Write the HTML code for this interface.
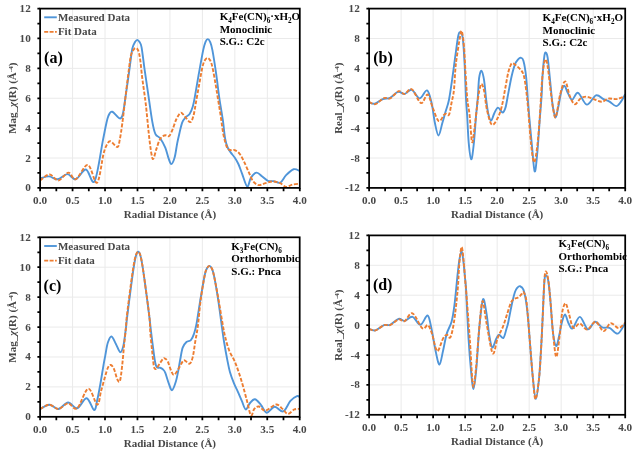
<!DOCTYPE html>
<html><head><meta charset="utf-8"><title>EXAFS fits</title>
<style>
html,body{margin:0;padding:0;background:#fff;}
svg{display:block;}
text{font-family:'Liberation Serif', 'Times New Roman', serif;font-weight:bold;}
.tk{fill:#474747;font-size:11.2px;}
.tt{fill:#474747;font-size:11px;}
.lg{fill:#474747;font-size:11.0px;}
.an{fill:#000;font-size:11.0px;}
.lb{fill:#000;font-size:16px;}
</style></head><body>
<svg width="637" height="455" viewBox="0 0 637 455">
<rect width="637" height="455" fill="#fff"/>
<defs><clipPath id="cpa"><rect x="40.1" y="8.6" width="259.7" height="179.3"/></clipPath></defs>
<path d="M72.56,8.6V187.9M105.03,8.6V187.9M137.49,8.6V187.9M169.95,8.6V187.9M202.41,8.6V187.9M234.87,8.6V187.9M267.34,8.6V187.9M40.1,158.02H299.8M40.1,128.13H299.8M40.1,98.25H299.8M40.1,68.37H299.8M40.1,38.48H299.8" stroke="#EAEAEA" stroke-width="1" fill="none"/>
<g clip-path="url(#cpa)" fill="none" stroke-width="1.9">
<path d="M40.1,178.34C41.58,178.01 46.07,176.25 48.99,176.39C51.92,176.54 54.57,179.61 57.63,179.23C60.69,178.86 64.34,174.15 67.37,174.15C70.4,174.15 72.71,180.01 75.81,179.23C78.9,178.46 82.8,169.2 85.94,169.52C89.08,169.85 91.8,186.08 94.64,181.18C97.47,176.27 101.06,149.4 102.95,140.09C104.83,130.77 105.03,129.33 105.93,125.29C106.84,121.26 107.36,118.15 108.4,115.88C109.44,113.62 110.28,111.27 112.17,111.7C114.05,112.12 117.92,118.05 119.7,118.42C121.47,118.79 121.86,117.4 122.81,113.94C123.77,110.48 124.3,105.17 125.41,97.65C126.53,90.13 128.35,76.96 129.5,68.81C130.65,60.67 131.37,53.25 132.29,48.79C133.21,44.34 134.19,43.56 135.02,42.07C135.85,40.58 136.54,39.83 137.29,39.83C138.05,39.83 138.85,40.82 139.57,42.07C140.28,43.31 140.76,42.84 141.58,47.3C142.4,51.76 143.42,61.19 144.5,68.81C145.58,76.44 146.77,84.23 148.07,93.02C149.37,101.81 151.06,114.71 152.29,121.56C153.52,128.41 154.16,131.32 155.47,134.11C156.78,136.9 158.51,136.03 160.15,138.29C161.78,140.56 163.91,144.49 165.28,147.71C166.64,150.92 167.33,154.85 168.33,157.57C169.32,160.28 170.2,163.99 171.25,163.99C172.3,163.99 173.65,160.93 174.62,157.57C175.6,154.21 176.36,147.58 177.09,143.82C177.83,140.06 178.2,138.54 179.04,135.01C179.88,131.47 181.01,125.59 182.16,122.6C183.3,119.62 184.68,118.52 185.92,117.08C187.17,115.63 188.48,115.71 189.62,113.94C190.77,112.17 191.88,109.61 192.8,106.47C193.72,103.33 194.17,100.39 195.14,95.11C196.11,89.83 197.31,82.29 198.65,74.79C199.99,67.3 202.04,55.64 203.19,50.14C204.34,44.63 204.76,43.61 205.53,41.77C206.3,39.93 207.04,39.08 207.8,39.08C208.56,39.08 209.31,39.93 210.07,41.77C210.84,43.61 211.37,44.63 212.41,50.14C213.45,55.64 215.16,66.85 216.31,74.79C217.45,82.74 218.2,90.23 219.29,97.8C220.39,105.37 221.89,113.42 222.86,120.21C223.84,127.01 224.32,134.01 225.14,138.59C225.95,143.17 226.78,145.37 227.73,147.71C228.69,150.05 229.69,150.99 230.85,152.64C232.01,154.28 233.43,155.68 234.68,157.57C235.94,159.46 237.14,161.28 238.38,163.99C239.63,166.71 240.67,170.09 242.15,173.85C243.62,177.62 245.75,185.91 247.21,186.56C248.67,187.2 249.35,180.06 250.91,177.74C252.47,175.42 254.67,172.86 256.56,172.66C258.45,172.46 260.38,175.17 262.27,176.54C264.17,177.91 266.05,180.11 267.92,180.88C269.79,181.65 271.44,180.88 273.51,181.18C275.57,181.48 278.22,183.67 280.32,182.67C282.42,181.67 283.88,177.44 286.1,175.2C288.32,172.96 291.35,169.92 293.63,169.22C295.92,168.53 298.77,170.72 299.8,171.02" stroke="#4F95D9" stroke-linejoin="round"/>
<path d="M40.1,180.43C41.68,179.43 46.55,174.45 49.58,174.45C52.61,174.45 55.13,180.73 58.28,180.43C61.43,180.13 65.55,172.86 68.47,172.66C71.39,172.46 72.58,180.53 75.81,179.23C79.03,177.94 84.28,164.32 87.82,164.89C91.36,165.46 94.42,184.51 97.04,182.67C99.66,180.83 101.88,160.18 103.53,153.83C105.19,147.48 105.83,146.66 106.97,144.57C108.12,142.48 108.68,140.88 110.41,141.28C112.15,141.68 115.81,147.16 117.36,146.96C118.91,146.76 118.89,143.92 119.7,140.09C120.51,136.25 121.28,131.02 122.23,123.95C123.18,116.88 124.32,106.62 125.41,97.65C126.5,88.69 127.88,77.13 128.79,70.16C129.7,63.19 130.06,59.23 130.87,55.82C131.67,52.4 132.76,50.98 133.59,49.69C134.43,48.39 135.11,47.92 135.86,48.05C136.62,48.17 137.43,48.64 138.14,50.44C138.84,52.23 139.41,54.32 140.08,58.8C140.76,63.29 141.43,71.4 142.16,77.33C142.9,83.26 143.85,89.51 144.5,94.37C145.15,99.22 145.48,101.31 146.06,106.47C146.63,111.62 147.37,119.69 147.94,125.29C148.51,130.9 148.91,135.33 149.5,140.09C150.08,144.84 150.82,150.7 151.45,153.83C152.07,156.97 152.43,159.73 153.26,158.91C154.1,158.09 155.4,152.04 156.45,148.9C157.5,145.76 158.51,142.18 159.56,140.09C160.61,137.99 161.66,137.15 162.74,136.35C163.83,135.55 164.96,135.38 166.05,135.31C167.15,135.23 168.19,136.95 169.3,135.9C170.42,134.86 171.55,131.84 172.74,129.03C173.93,126.22 175.08,121.73 176.44,119.02C177.81,116.3 179.44,113.07 180.92,112.74C182.4,112.42 183.77,115.51 185.34,117.08C186.91,118.65 188.98,122.38 190.34,122.16C191.69,121.93 192.52,118.99 193.45,115.73C194.38,112.47 194.95,107.89 195.92,102.58C196.89,97.28 198.21,89.83 199.3,83.91C200.38,77.98 201.48,70.96 202.41,67.02C203.34,63.09 204.04,61.82 204.88,60.3C205.72,58.78 206.61,57.91 207.48,57.91C208.34,57.91 209.25,58.78 210.07,60.3C210.9,61.82 211.5,63.09 212.41,67.02C213.32,70.96 214.63,78.78 215.53,83.91C216.43,89.04 216.99,92.8 217.8,97.8C218.61,102.81 219.43,107.69 220.4,113.94C221.36,120.19 222.43,129.65 223.58,135.31C224.73,140.96 226.05,145.39 227.28,147.86C228.51,150.32 229.75,149.72 230.98,150.1C232.21,150.47 233.23,149.48 234.68,150.1C236.13,150.72 238.13,151.94 239.68,153.83C241.23,155.73 242.5,158.51 243.96,161.45C245.43,164.39 246.96,168.23 248.44,171.46C249.93,174.7 251.19,178.61 252.86,180.88C254.53,183.14 256.46,184.64 258.44,185.06C260.42,185.48 262.42,184.02 264.74,183.42C267.06,182.82 269.83,181.55 272.34,181.48C274.85,181.4 277.51,182.07 279.8,182.97C282.1,183.87 284,186.58 286.1,186.85C288.2,187.13 290.12,185.14 292.4,184.61C294.68,184.09 298.57,183.87 299.8,183.72" stroke="#ED7D31" stroke-dasharray="3.8 1.7"/>
</g>
<rect x="40.1" y="8.6" width="259.7" height="179.3" fill="none" stroke="#000" stroke-width="1.75"/>
<path d="M40.1,187.9V191.3M56.33,187.9V191.3M72.56,187.9V191.3M88.79,187.9V191.3M105.03,187.9V191.3M121.26,187.9V191.3M137.49,187.9V191.3M153.72,187.9V191.3M169.95,187.9V191.3M186.18,187.9V191.3M202.41,187.9V191.3M218.64,187.9V191.3M234.87,187.9V191.3M251.11,187.9V191.3M267.34,187.9V191.3M283.57,187.9V191.3M299.8,187.9V191.3M37.4,187.9H40.1M37.4,172.96H40.1M37.4,158.02H40.1M37.4,143.07H40.1M37.4,128.13H40.1M37.4,113.19H40.1M37.4,98.25H40.1M37.4,83.31H40.1M37.4,68.37H40.1M37.4,53.42H40.1M37.4,38.48H40.1M37.4,23.54H40.1M37.4,8.6H40.1" stroke="#000" stroke-width="1.75" fill="none"/>
<text class="tk" x="40.1" y="203.8" text-anchor="middle">0.0</text>
<text class="tk" x="72.56" y="203.8" text-anchor="middle">0.5</text>
<text class="tk" x="105.03" y="203.8" text-anchor="middle">1.0</text>
<text class="tk" x="137.49" y="203.8" text-anchor="middle">1.5</text>
<text class="tk" x="169.95" y="203.8" text-anchor="middle">2.0</text>
<text class="tk" x="202.41" y="203.8" text-anchor="middle">2.5</text>
<text class="tk" x="234.87" y="203.8" text-anchor="middle">3.0</text>
<text class="tk" x="267.34" y="203.8" text-anchor="middle">3.5</text>
<text class="tk" x="299.8" y="203.8" text-anchor="middle">4.0</text>
<text class="tk" x="30.8" y="191.4" text-anchor="end">0</text>
<text class="tk" x="30.8" y="161.52" text-anchor="end">2</text>
<text class="tk" x="30.8" y="131.63" text-anchor="end">4</text>
<text class="tk" x="30.8" y="101.75" text-anchor="end">6</text>
<text class="tk" x="30.8" y="71.87" text-anchor="end">8</text>
<text class="tk" x="30.8" y="41.98" text-anchor="end">10</text>
<text class="tk" x="30.8" y="12.1" text-anchor="end">12</text>
<text class="tt" x="169.95" y="217.7" text-anchor="middle">Radial Distance (Å)</text>
<text class="tt" transform="translate(16.2,98.25) rotate(-90)" text-anchor="middle">Mag_<tspan font-style="italic">χ</tspan>(R) (Å<tspan font-size="7" dy="-3">-4</tspan><tspan dy="3">)</tspan></text>
<path d="M44.2,17.3H56.8" stroke="#4F95D9" stroke-width="1.9"/>
<path d="M44.2,31.9H56.8" stroke="#ED7D31" stroke-width="1.9" stroke-dasharray="4 1.4"/>
<text class="lg" x="57.9" y="20.9">Measured Data</text>
<text class="lg" x="57.9" y="35.2">Fit Data</text>
<text class="an" x="219.7" y="20.3">K<tspan font-size="7.2" dy="2.8">4</tspan><tspan dy="-2.8">Fe(CN)</tspan><tspan font-size="7.2" dy="2.8">6</tspan><tspan dy="-2.8">·xH</tspan><tspan font-size="7.2" dy="2.8">2</tspan><tspan dy="-2.8">O</tspan></text>
<text class="an" x="219.7" y="33.1">Monoclinic</text>
<text class="an" x="219.7" y="45.3">S.G.: C2c</text>
<text class="lb" x="44.1" y="62.7">(a)</text>
<defs><clipPath id="cpb"><rect x="369.1" y="8.6" width="256.1" height="179.3"/></clipPath></defs>
<path d="M401.11,8.6V187.9M433.12,8.6V187.9M465.14,8.6V187.9M497.15,8.6V187.9M529.16,8.6V187.9M561.18,8.6V187.9M593.19,8.6V187.9M369.1,158.02H625.2M369.1,128.13H625.2M369.1,98.25H625.2M369.1,68.37H625.2M369.1,38.48H625.2" stroke="#EAEAEA" stroke-width="1" fill="none"/>
<g clip-path="url(#cpb)" fill="none" stroke-width="1.9">
<path d="M369.1,102.36C370.06,102.58 372.58,104.25 374.86,103.7C377.15,103.16 380.26,100.06 382.8,99.07C385.34,98.09 387.56,99.01 390.1,97.8C392.64,96.59 395.62,92.49 398.04,91.83C400.46,91.17 402.34,94.17 404.63,93.84C406.93,93.52 409.3,89.12 411.8,89.88C414.31,90.64 417.14,98.3 419.68,98.4C422.22,98.5 425.05,89.67 427.04,90.48C429.04,91.29 430.34,97.83 431.65,103.26C432.96,108.68 433.78,117.69 434.92,123.05C436.06,128.42 437.27,135.45 438.5,135.45C439.74,135.45 441.16,127.05 442.34,123.05C443.53,119.06 444.51,115.32 445.61,111.47C446.71,107.63 447.82,105.51 448.94,99.97C450.06,94.43 451.25,85.66 452.33,78.23C453.41,70.79 454.42,62.41 455.41,55.37C456.39,48.32 457.4,39.8 458.22,35.94C459.04,32.08 459.59,31.91 460.34,32.21C461.08,32.51 461.99,32.41 462.7,37.74C463.42,43.07 464.07,53.92 464.63,64.18C465.18,74.44 465.62,90.87 466.03,99.3C466.45,107.73 466.67,107.5 467.12,114.76C467.57,122.02 468.04,135.42 468.72,142.85C469.41,150.28 470.39,159.09 471.22,159.36C472.05,159.64 472.9,151.93 473.72,144.49C474.54,137.06 475.47,122.59 476.15,114.76C476.83,106.93 477.32,103.59 477.81,97.5C478.31,91.41 478.49,82.67 479.09,78.23C479.7,73.78 480.64,70.55 481.46,70.83C482.29,71.12 483.25,75.2 484.02,79.95C484.8,84.69 485.44,93.76 486.14,99.3C486.83,104.84 487.36,109.64 488.19,113.19C489.01,116.74 490.04,120.59 491.07,120.59C492.09,120.59 493.18,115.36 494.33,113.19C495.49,111.03 496.61,107.71 497.98,107.59C499.36,107.46 501.33,112.48 502.59,112.44C503.85,112.41 504.6,110.5 505.54,107.36C506.48,104.23 507.22,98.76 508.23,93.62C509.23,88.48 510.45,81.34 511.56,76.51C512.67,71.68 513.79,67.48 514.88,64.63C515.98,61.78 517.17,60.55 518.15,59.4C519.13,58.26 519.9,57.55 520.78,57.76C521.65,57.97 522.51,57.55 523.4,60.67C524.29,63.8 525.31,69.49 526.09,76.51C526.87,83.53 527.53,95.9 528.07,102.81C528.62,109.72 528.7,110.76 529.35,117.97C530.01,125.18 531.09,137.14 531.98,146.06C532.87,154.99 533.78,170.38 534.67,171.54C535.55,172.7 536.43,161.94 537.29,153.01C538.16,144.08 539.13,127.62 539.85,117.97C540.58,108.32 541.21,102.02 541.65,95.11C542.08,88.2 542.01,83.12 542.48,76.51C542.95,69.9 543.87,59.4 544.46,55.44C545.06,51.48 545.52,52.32 546.07,52.75C546.61,53.19 547.12,54.1 547.73,58.06C548.34,62.02 548.95,69.05 549.71,76.51C550.48,83.97 551.62,96.82 552.34,102.81C553.05,108.8 553.43,110.07 554,112.44C554.58,114.82 555.02,118.32 555.8,117.08C556.58,115.83 557.73,109.36 558.68,104.97C559.63,100.59 560.52,93.97 561.5,90.78C562.47,87.59 563.44,85.46 564.5,85.85C565.57,86.23 566.62,90.78 567.9,93.1C569.18,95.41 570.49,99.79 572.19,99.74C573.88,99.69 575.64,91.99 578.08,92.8C580.51,93.61 583.8,104.18 586.79,104.6C589.77,105.02 593.22,96.26 596,95.34C598.79,94.41 601.24,98.03 603.5,99.07C605.75,100.12 607.4,100.44 609.51,101.61C611.63,102.78 614.26,106.09 616.17,106.09C618.08,106.09 619.47,103.58 620.97,101.61C622.48,99.64 624.5,95.51 625.2,94.29" stroke="#4F95D9" stroke-linejoin="round"/>
<path d="M369.1,101.84C370.17,102.21 373.01,104.71 375.5,104.08C378,103.44 381.65,98.97 384.08,98.03C386.51,97.08 387.68,99.53 390.1,98.4C392.52,97.27 396.19,91.95 398.62,91.23C401.04,90.51 402.44,94.4 404.63,94.07C406.83,93.73 409.07,87.7 411.8,89.21C414.54,90.72 418.39,102.22 421.02,103.11C423.66,103.99 425.63,93.66 427.62,94.51C429.6,95.37 431.07,103.84 432.93,108.26C434.8,112.68 436.84,120.09 438.82,121.04C440.81,121.98 443.16,114.98 444.84,113.94C446.53,112.89 447.84,116.54 448.94,114.76C450.04,112.98 450.6,107.36 451.44,103.26C452.27,99.15 453.2,96.62 453.93,90.11C454.67,83.59 454.86,72.91 455.85,64.18C456.85,55.45 458.9,43.25 459.89,37.74C460.88,32.22 461.13,29.62 461.81,31.09C462.49,32.56 463.37,39.58 463.99,46.55C464.6,53.52 464.97,64.13 465.52,72.92C466.08,81.71 466.64,92.32 467.31,99.3C467.99,106.27 468.77,107.64 469.56,114.76C470.34,121.88 471.22,139.83 472.05,142.03C472.88,144.23 473.59,134.99 474.55,127.98C475.51,120.97 477,106.28 477.81,99.97C478.63,93.66 478.81,92.8 479.42,90.11C480.02,87.42 480.7,83.77 481.46,83.83C482.23,83.89 483.11,86.13 484.02,90.48C484.94,94.83 485.67,104.2 486.97,109.9C488.27,115.61 490.05,123.34 491.84,124.7C493.62,126.05 496.01,121.09 497.66,118.05C499.32,115.01 500.53,111.21 501.76,106.47C502.99,101.72 503.95,95.24 505.03,89.58C506.1,83.93 507.24,76.71 508.23,72.55C509.21,68.39 510.15,66.16 510.92,64.63C511.68,63.1 511.87,63.14 512.84,63.36C513.81,63.59 515.32,64.78 516.74,65.98C518.16,67.17 520.13,68.78 521.35,70.53C522.57,72.29 523.25,73.33 524.04,76.51C524.83,79.68 525.42,84.32 526.09,89.58C526.76,94.85 527.24,99 528.07,108.11C528.91,117.23 530.08,135.24 531.08,144.27C532.09,153.3 533.06,161.98 534.09,162.28C535.13,162.57 536.33,153.75 537.29,146.06C538.25,138.38 539.1,126.66 539.85,116.18C540.61,105.7 541.17,91.75 541.84,83.16C542.51,74.57 543.23,68.59 543.89,64.63C544.55,60.67 545.16,58.97 545.81,59.4C546.46,59.84 547.01,62.22 547.79,67.25C548.57,72.28 549.61,82.77 550.48,89.58C551.36,96.39 552.16,103.53 553.04,108.11C553.93,112.69 554.6,119.38 555.8,117.08C556.99,114.77 558.66,100.23 560.21,94.29C561.77,88.35 563.51,81.04 565.14,81.44C566.78,81.84 568.38,92.88 570.01,96.68C571.64,100.48 573.19,103.93 574.94,104.23C576.69,104.53 578.57,99.73 580.51,98.47C582.45,97.22 584.38,96.58 586.59,96.68C588.8,96.78 591.25,98.23 593.76,99.07C596.28,99.92 599.28,101.84 601.7,101.76C604.13,101.69 605.78,99.07 608.3,98.62C610.82,98.18 614,99.5 616.81,99.07C619.63,98.65 623.8,96.58 625.2,96.08" stroke="#ED7D31" stroke-dasharray="3.8 1.7"/>
</g>
<rect x="369.1" y="8.6" width="256.1" height="179.3" fill="none" stroke="#000" stroke-width="1.75"/>
<path d="M369.1,187.9V191.3M385.11,187.9V191.3M401.11,187.9V191.3M417.12,187.9V191.3M433.12,187.9V191.3M449.13,187.9V191.3M465.14,187.9V191.3M481.14,187.9V191.3M497.15,187.9V191.3M513.16,187.9V191.3M529.16,187.9V191.3M545.17,187.9V191.3M561.18,187.9V191.3M577.18,187.9V191.3M593.19,187.9V191.3M609.19,187.9V191.3M625.2,187.9V191.3M366.4,187.9H369.1M366.4,172.96H369.1M366.4,158.02H369.1M366.4,143.07H369.1M366.4,128.13H369.1M366.4,113.19H369.1M366.4,98.25H369.1M366.4,83.31H369.1M366.4,68.37H369.1M366.4,53.42H369.1M366.4,38.48H369.1M366.4,23.54H369.1M366.4,8.6H369.1" stroke="#000" stroke-width="1.75" fill="none"/>
<text class="tk" x="369.1" y="203.8" text-anchor="middle">0.0</text>
<text class="tk" x="401.11" y="203.8" text-anchor="middle">0.5</text>
<text class="tk" x="433.12" y="203.8" text-anchor="middle">1.0</text>
<text class="tk" x="465.14" y="203.8" text-anchor="middle">1.5</text>
<text class="tk" x="497.15" y="203.8" text-anchor="middle">2.0</text>
<text class="tk" x="529.16" y="203.8" text-anchor="middle">2.5</text>
<text class="tk" x="561.18" y="203.8" text-anchor="middle">3.0</text>
<text class="tk" x="593.19" y="203.8" text-anchor="middle">3.5</text>
<text class="tk" x="625.2" y="203.8" text-anchor="middle">4.0</text>
<text class="tk" x="359.8" y="191.4" text-anchor="end">-12</text>
<text class="tk" x="359.8" y="161.52" text-anchor="end">-8</text>
<text class="tk" x="359.8" y="131.63" text-anchor="end">-4</text>
<text class="tk" x="359.8" y="101.75" text-anchor="end">0</text>
<text class="tk" x="359.8" y="71.87" text-anchor="end">4</text>
<text class="tk" x="359.8" y="41.98" text-anchor="end">8</text>
<text class="tk" x="359.8" y="12.1" text-anchor="end">12</text>
<text class="tt" x="497.15" y="217.7" text-anchor="middle">Radial Distance (Å)</text>
<text class="tt" transform="translate(341.8,98.25) rotate(-90)" text-anchor="middle">Real_<tspan font-style="italic">χ</tspan>(R) (Å<tspan font-size="7" dy="-3">-4</tspan><tspan dy="3">)</tspan></text>
<text class="an" x="542.6" y="20.7">K<tspan font-size="7.2" dy="2.8">4</tspan><tspan dy="-2.8">Fe(CN)</tspan><tspan font-size="7.2" dy="2.8">6</tspan><tspan dy="-2.8">·xH</tspan><tspan font-size="7.2" dy="2.8">2</tspan><tspan dy="-2.8">O</tspan></text>
<text class="an" x="542.6" y="33.8">Monoclinic</text>
<text class="an" x="542.6" y="46.1">S.G.: C2c</text>
<text class="lb" x="373.2" y="62.8">(b)</text>
<defs><clipPath id="cpc"><rect x="40.1" y="237.3" width="259.6" height="179.5"/></clipPath></defs>
<path d="M72.55,237.3V416.8M105,237.3V416.8M137.45,237.3V416.8M169.9,237.3V416.8M202.35,237.3V416.8M234.8,237.3V416.8M267.25,237.3V416.8M40.1,386.88H299.7M40.1,356.97H299.7M40.1,327.05H299.7M40.1,297.13H299.7M40.1,267.22H299.7" stroke="#EAEAEA" stroke-width="1" fill="none"/>
<g clip-path="url(#cpc)" fill="none" stroke-width="1.9">
<path d="M40.1,409.02C41.65,408.3 46.33,404.68 49.38,404.68C52.43,404.68 55.29,409.4 58.4,409.02C61.52,408.65 64.95,402.56 68.07,402.44C71.2,402.32 74.06,408.97 77.16,408.27C80.25,407.58 83.81,397.95 86.63,398.25C89.46,398.55 92.33,409.74 94.1,410.07C95.86,410.39 96.16,404.56 97.21,400.2C98.26,395.83 99.34,389.75 100.39,383.89C101.44,378.03 102.69,369.81 103.51,365.04C104.33,360.28 104.61,359.04 105.32,355.32C106.04,351.61 106.76,345.9 107.79,342.76C108.82,339.62 110.14,336.27 111.49,336.47C112.84,336.67 114.44,341.34 115.9,343.95C117.36,346.57 118.99,351.96 120.25,352.18C121.52,352.4 122.54,349.39 123.5,345.3C124.45,341.21 125.37,332.26 125.96,327.65C126.56,323.04 126.25,324.23 127.07,317.63C127.88,311.02 129.65,296.78 130.83,288.01C132.01,279.23 133.23,270.51 134.14,264.97C135.05,259.44 135.6,257 136.28,254.8C136.96,252.61 137.58,251.81 138.23,251.81C138.88,251.81 139.49,252.61 140.18,254.8C140.86,257 141.41,259.44 142.32,264.97C143.23,270.51 144.44,279.23 145.63,288.01C146.82,296.78 148.56,310.4 149.46,317.63C150.35,324.86 150.33,325.75 151.01,331.39C151.7,337.02 152.83,346.17 153.55,351.43C154.26,356.69 154.74,360.28 155.3,362.95C155.86,365.62 156.12,366.64 156.92,367.44C157.72,368.24 159.13,367.44 160.1,367.74C161.07,368.04 161.91,368.41 162.76,369.23C163.62,370.06 164.2,370.23 165.23,372.67C166.25,375.12 167.78,380.97 168.93,383.89C170.07,386.81 170.95,390.57 172.11,390.17C173.26,389.78 174.82,384.86 175.87,381.5C176.92,378.13 177.67,373.7 178.4,369.98C179.14,366.27 179.57,362.93 180.28,359.21C181,355.5 181.66,350.56 182.69,347.69C183.71,344.83 185.09,343.25 186.45,342.01C187.81,340.76 189.61,341.56 190.86,340.21C192.12,338.87 193.04,336.65 193.98,333.93C194.92,331.21 195.39,329.89 196.51,323.91C197.62,317.93 199.29,306.18 200.66,298.03C202.04,289.88 203.68,279.98 204.75,275C205.82,270.01 206.32,269.63 207.09,268.11C207.86,266.59 208.6,265.87 209.36,265.87C210.12,265.87 210.88,266.59 211.63,268.11C212.38,269.63 212.79,270.01 213.84,275C214.89,279.98 216.56,289.26 217.93,298.03C219.29,306.81 220.99,320.32 222.01,327.65C223.04,334.98 223.2,336.6 224.09,342.01C224.98,347.42 226.36,355.12 227.34,360.11C228.31,365.09 228.84,368.09 229.93,371.93C231.02,375.76 232.58,379.85 233.89,383.14C235.2,386.43 236.47,388.7 237.79,391.67C239.11,394.64 240.49,397.98 241.81,400.94C243.13,403.91 244.39,409.05 245.7,409.47C247.01,409.89 248.14,405.18 249.66,403.49C251.19,401.79 252.98,399.07 254.85,399.3C256.73,399.52 258.91,402.59 260.89,404.83C262.87,407.08 264.44,412.44 266.73,412.76C269.02,413.09 271.9,407 274.65,406.78C277.4,406.55 280.59,412.39 283.22,411.42C285.84,410.44 288.13,403.49 290.42,400.94C292.71,398.4 295.43,396.78 296.97,396.16C298.52,395.53 299.25,397.03 299.7,397.2" stroke="#4F95D9" stroke-linejoin="round"/>
<path d="M40.1,409.02C41.65,408.3 46.33,404.68 49.38,404.68C52.43,404.68 55.29,409.25 58.4,409.02C61.52,408.8 64.95,403.46 68.07,403.34C71.2,403.21 73.79,410.72 77.16,408.27C80.52,405.83 84.91,389.28 88.26,388.68C91.6,388.08 95.09,404.24 97.21,404.68C99.33,405.13 99.71,395.88 100.98,391.37C102.24,386.86 103.65,381.57 104.81,377.61C105.96,373.65 106.9,369.68 107.92,367.59C108.94,365.49 109.89,364.79 110.91,365.04C111.92,365.29 112.95,366.69 114.02,369.08C115.09,371.48 116.35,377.43 117.33,379.4C118.32,381.37 119.12,383.24 119.93,380.9C120.74,378.56 121.51,371.28 122.2,365.34C122.89,359.41 123.45,351.58 124.08,345.3C124.71,339.02 125.53,332.26 125.96,327.65C126.4,323.04 125.94,324.23 126.68,317.63C127.41,311.02 129.21,296.78 130.38,288.01C131.54,279.23 132.76,270.51 133.69,264.97C134.62,259.44 135.23,257 135.96,254.8C136.68,252.61 137.33,251.81 138.03,251.81C138.74,251.81 139.46,252.61 140.18,254.8C140.89,257 141.41,259.44 142.32,264.97C143.23,270.51 144.44,279.23 145.63,288.01C146.82,296.78 148.66,309.97 149.46,317.63C150.26,325.28 149.95,328.07 150.43,333.93C150.91,339.79 151.73,347.37 152.31,352.78C152.9,358.19 153.33,363.7 153.93,366.39C154.54,369.08 155.02,369.36 155.95,368.93C156.88,368.51 158.38,365.47 159.52,363.85C160.65,362.23 161.93,360.13 162.76,359.21C163.59,358.29 163.69,357.96 164.51,358.31C165.34,358.66 166.64,359.36 167.69,361.3C168.74,363.25 169.77,367.71 170.81,369.98C171.85,372.25 172.66,375.09 173.92,374.92C175.19,374.74 176.93,371.2 178.4,368.93C179.87,366.66 181.66,362.7 182.75,361.3C183.84,359.91 183.82,360.16 184.96,360.56C186.09,360.96 188.27,364.27 189.56,363.7C190.86,363.12 191.79,360.83 192.74,357.12C193.7,353.4 194.43,346.52 195.28,341.41C196.12,336.3 196.91,333.33 197.81,326.45C198.7,319.57 199.51,308.7 200.66,300.12C201.82,291.55 203.68,280.33 204.75,275C205.82,269.66 206.32,269.63 207.09,268.11C207.86,266.59 208.6,265.87 209.36,265.87C210.12,265.87 210.88,266.59 211.63,268.11C212.38,269.63 212.73,270.01 213.84,275C214.94,279.98 216.68,289.26 218.25,298.03C219.82,306.81 222.06,321.04 223.25,327.65C224.44,334.25 224.42,333.91 225.39,337.67C226.36,341.43 227.52,346.25 229.09,350.24C230.66,354.22 233.13,357.76 234.8,361.6C236.47,365.44 237.7,369.13 239.08,373.27C240.47,377.41 241.79,381.82 243.11,386.43C244.43,391.05 245.69,396.11 247,400.94C248.31,405.78 249.75,414.13 250.96,415.45C252.17,416.78 252.95,410.37 254.27,408.87C255.59,407.38 257.02,406.18 258.88,406.48C260.74,406.78 262.59,410.99 265.43,410.67C268.28,410.34 273.1,404.83 275.95,404.53C278.79,404.24 280.52,407.3 282.5,408.87C284.48,410.44 285.84,413.86 287.82,413.96C289.8,414.06 292.4,410.32 294.38,409.47C296.36,408.62 298.81,408.97 299.7,408.87" stroke="#ED7D31" stroke-dasharray="3.8 1.7"/>
</g>
<rect x="40.1" y="237.3" width="259.6" height="179.5" fill="none" stroke="#000" stroke-width="1.75"/>
<path d="M40.1,416.8V420.2M56.33,416.8V420.2M72.55,416.8V420.2M88.78,416.8V420.2M105,416.8V420.2M121.22,416.8V420.2M137.45,416.8V420.2M153.67,416.8V420.2M169.9,416.8V420.2M186.12,416.8V420.2M202.35,416.8V420.2M218.57,416.8V420.2M234.8,416.8V420.2M251.02,416.8V420.2M267.25,416.8V420.2M283.47,416.8V420.2M299.7,416.8V420.2M37.4,416.8H40.1M37.4,401.84H40.1M37.4,386.88H40.1M37.4,371.93H40.1M37.4,356.97H40.1M37.4,342.01H40.1M37.4,327.05H40.1M37.4,312.09H40.1M37.4,297.13H40.1M37.4,282.18H40.1M37.4,267.22H40.1M37.4,252.26H40.1M37.4,237.3H40.1" stroke="#000" stroke-width="1.75" fill="none"/>
<text class="tk" x="40.1" y="432.7" text-anchor="middle">0.0</text>
<text class="tk" x="72.55" y="432.7" text-anchor="middle">0.5</text>
<text class="tk" x="105" y="432.7" text-anchor="middle">1.0</text>
<text class="tk" x="137.45" y="432.7" text-anchor="middle">1.5</text>
<text class="tk" x="169.9" y="432.7" text-anchor="middle">2.0</text>
<text class="tk" x="202.35" y="432.7" text-anchor="middle">2.5</text>
<text class="tk" x="234.8" y="432.7" text-anchor="middle">3.0</text>
<text class="tk" x="267.25" y="432.7" text-anchor="middle">3.5</text>
<text class="tk" x="299.7" y="432.7" text-anchor="middle">4.0</text>
<text class="tk" x="30.8" y="420.3" text-anchor="end">0</text>
<text class="tk" x="30.8" y="390.38" text-anchor="end">2</text>
<text class="tk" x="30.8" y="360.47" text-anchor="end">4</text>
<text class="tk" x="30.8" y="330.55" text-anchor="end">6</text>
<text class="tk" x="30.8" y="300.63" text-anchor="end">8</text>
<text class="tk" x="30.8" y="270.72" text-anchor="end">10</text>
<text class="tk" x="30.8" y="240.8" text-anchor="end">12</text>
<text class="tt" x="169.9" y="446.6" text-anchor="middle">Radial Distance (Å)</text>
<text class="tt" transform="translate(16.2,327.05) rotate(-90)" text-anchor="middle">Mag_<tspan font-style="italic">χ</tspan>(R) (Å<tspan font-size="7" dy="-3">-4</tspan><tspan dy="3">)</tspan></text>
<path d="M44.2,246H56.8" stroke="#4F95D9" stroke-width="1.9"/>
<path d="M44.2,260.6H56.8" stroke="#ED7D31" stroke-width="1.9" stroke-dasharray="4 1.4"/>
<text class="lg" x="57.9" y="249.6">Measured Data</text>
<text class="lg" x="57.9" y="263.9">Fit data</text>
<text class="an" x="231.3" y="250">K<tspan font-size="7.2" dy="2.8">3</tspan><tspan dy="-2.8">Fe(CN)</tspan><tspan font-size="7.2" dy="2.8">6</tspan></text>
<text class="an" x="231.3" y="262">Orthorhombic</text>
<text class="an" x="231.3" y="274.5">S.G.: Pnca</text>
<text class="lb" x="43.6" y="291.2">(c)</text>
<defs><clipPath id="cpd"><rect x="369.1" y="235.4" width="256.1" height="179.4"/></clipPath></defs>
<path d="M401.11,235.4V414.8M433.12,235.4V414.8M465.14,235.4V414.8M497.15,235.4V414.8M529.16,235.4V414.8M561.18,235.4V414.8M593.19,235.4V414.8M369.1,384.9H625.2M369.1,355H625.2M369.1,325.1H625.2M369.1,295.2H625.2M369.1,265.3H625.2" stroke="#EAEAEA" stroke-width="1" fill="none"/>
<g clip-path="url(#cpd)" fill="none" stroke-width="1.9">
<path d="M369.1,329.06C370.17,329.29 373.01,331.07 375.5,330.41C378,329.75 381.65,326.03 384.08,325.1C386.51,324.17 387.68,325.85 390.1,324.8C392.52,323.75 396.19,319.48 398.62,318.82C401.04,318.16 402.32,321.18 404.63,320.84C406.95,320.5 409.87,316.14 412.51,316.8C415.14,317.46 417.96,325.01 420.45,324.8C422.93,324.59 425.67,315.27 427.43,315.53C429.19,315.79 429.58,320.14 431.01,326.37C432.44,332.6 434.59,346.55 436.01,352.91C437.43,359.26 438.34,364.9 439.53,364.49C440.71,364.08 441.91,355.59 443.11,350.44C444.32,345.29 445.34,338.44 446.76,333.62C448.18,328.8 450.34,326.35 451.63,321.51C452.92,316.68 453.56,312.03 454.51,304.62C455.46,297.21 456.52,284.47 457.33,277.04C458.14,269.6 458.66,264.34 459.38,259.99C460.09,255.64 460.98,250.95 461.62,250.95C462.26,250.95 462.66,255.64 463.22,259.99C463.77,264.34 464.47,272.02 464.95,277.04C465.43,282.06 465.5,279.89 466.1,290.12C466.7,300.35 467.72,325.11 468.53,338.41C469.34,351.7 470.16,361.42 470.96,369.88C471.76,378.33 472.46,389.16 473.33,389.16C474.21,389.16 475.2,380.34 476.21,369.88C477.23,359.41 478.27,338.13 479.42,326.37C480.56,314.61 481.86,301.32 483.06,299.31C484.27,297.31 485.66,308.62 486.65,314.34C487.64,320.05 488.09,328.09 489.02,333.62C489.95,339.15 490.99,346.73 492.22,347.52C493.45,348.32 495.24,340.52 496.38,338.41C497.52,336.29 497.9,334.89 499.07,334.82C500.24,334.74 502.2,338.94 503.42,337.96C504.65,336.97 505.63,331.49 506.43,328.91C507.23,326.33 507.37,326.4 508.23,322.48C509.08,318.57 510.45,310.49 511.56,305.44C512.67,300.4 513.9,295.18 514.88,292.21C515.87,289.24 516.58,288.65 517.45,287.65C518.31,286.65 519.08,285.89 520.07,286.23C521.06,286.57 522.4,287.11 523.4,289.67C524.4,292.22 525.31,296.73 526.09,301.55C526.87,306.38 527.38,311.11 528.07,318.6C528.77,326.08 529.45,336.57 530.25,346.48C531.05,356.38 531.94,369.25 532.88,378.02C533.81,386.79 534.85,399.1 535.89,399.1C536.92,399.1 538.2,386.79 539.09,378.02C539.97,369.25 540.62,356.13 541.2,346.48C541.78,336.82 542,331.09 542.54,320.09C543.09,309.09 543.86,287.91 544.46,280.47C545.07,273.04 545.53,275.25 546.19,275.47C546.85,275.68 547.72,277.4 548.43,281.75C549.15,286.09 549.71,292.99 550.48,301.55C551.25,310.11 552.08,325.69 553.04,333.1C554,340.51 555.21,345.68 556.25,346.03C557.28,346.38 558.34,339.04 559.25,335.19C560.17,331.34 560.79,326.38 561.75,322.93C562.71,319.48 563.91,314.49 565.02,314.49C566.13,314.49 567.15,320.62 568.41,322.93C569.67,325.25 570.66,329.4 572.57,328.39C574.48,327.38 577.33,316.73 579.87,316.88C582.41,317.03 585.29,328.48 587.81,329.29C590.33,330.1 592.57,322.04 594.98,321.74C597.39,321.44 599.86,326.48 602.28,327.49C604.7,328.5 606.93,326.77 609.51,327.79C612.1,328.81 615.16,334.38 617.77,333.62C620.39,332.86 623.96,324.96 625.2,323.23" stroke="#4F95D9" stroke-linejoin="round"/>
<path d="M369.1,329.06C370.17,329.29 373.01,331.07 375.5,330.41C378,329.75 381.65,325.98 384.08,325.1C386.51,324.22 387.68,326.05 390.1,325.1C392.52,324.15 396.19,320.08 398.62,319.42C401.04,318.76 402.32,322.16 404.63,321.14C406.95,320.12 409.54,312.09 412.51,313.29C415.48,314.49 419.86,326.35 422.43,328.31C425,330.28 426.31,324.05 427.94,325.1C429.57,326.15 430.96,330.82 432.23,334.59C433.5,338.37 434.55,345.11 435.56,347.75C436.56,350.39 436.99,352 438.25,350.44C439.51,348.88 441.68,341.01 443.11,338.41C444.54,335.8 445.61,335.02 446.83,334.82C448.04,334.62 449.21,339.43 450.41,337.21C451.62,334.99 452.86,329.36 454.06,321.51C455.27,313.66 456.76,299.86 457.65,290.12C458.53,280.37 458.71,270.25 459.38,263.06C460.04,255.87 460.92,247.5 461.62,246.99C462.31,246.48 462.9,253.83 463.54,259.99C464.18,266.16 465.03,278.97 465.46,283.99C465.88,289.01 465.38,281.05 466.1,290.12C466.81,299.19 468.61,322.51 469.75,338.41C470.89,354.3 471.93,380.25 472.95,385.5C473.96,390.74 474.75,379.73 475.83,369.88C476.91,360.02 478.29,337.84 479.42,326.37C480.54,314.9 481.35,301.44 482.55,301.03C483.76,300.62 484.95,315.18 486.65,323.9C488.35,332.62 490.92,350.94 492.73,353.36C494.55,355.77 495.83,342.87 497.53,338.41C499.24,333.95 501.41,330.56 502.98,326.6C504.54,322.63 505.63,318.6 506.95,314.63C508.26,310.67 509.63,305.45 510.85,302.82C512.07,300.2 513.03,299.75 514.24,298.86C515.46,297.98 516.94,298.29 518.15,297.52C519.36,296.74 520.6,295.14 521.48,294.23C522.35,293.32 522.63,291.29 523.4,292.06C524.17,292.83 525.31,294.44 526.09,298.86C526.87,303.29 527.38,310.66 528.07,318.6C528.77,326.53 529.45,336.57 530.25,346.48C531.05,356.38 532.01,369.25 532.88,378.02C533.74,386.79 534.4,399.1 535.44,399.1C536.47,399.1 538.13,386.79 539.09,378.02C540.05,369.25 540.62,356.13 541.2,346.48C541.78,336.82 542,331.38 542.54,320.09C543.09,308.8 543.86,286.82 544.46,278.75C545.07,270.69 545.53,271.35 546.19,271.73C546.85,272.1 547.72,276.03 548.43,281C549.15,285.97 549.71,292.87 550.48,301.55C551.25,310.24 552.08,323.87 553.04,333.1C554,342.33 555.16,356.41 556.25,356.94C557.33,357.48 558.57,343.8 559.57,336.31C560.58,328.83 561.26,317.5 562.26,312.02C563.27,306.54 564.49,303.21 565.59,303.42C566.69,303.63 567.59,309.28 568.86,313.29C570.13,317.3 571.38,325.79 573.21,327.49C575.05,329.2 577.54,323.18 579.87,323.53C582.2,323.88 584.54,329.88 587.17,329.59C589.79,329.29 592.9,321.49 595.62,321.74C598.34,321.99 600.99,330.83 603.5,331.08C606,331.33 608.15,323.74 610.67,323.23C613.18,322.72 616.18,328.1 618.61,328.02C621.03,327.93 624.1,323.59 625.2,322.71" stroke="#ED7D31" stroke-dasharray="3.8 1.7"/>
</g>
<rect x="369.1" y="235.4" width="256.1" height="179.4" fill="none" stroke="#000" stroke-width="1.75"/>
<path d="M369.1,414.8V418.2M385.11,414.8V418.2M401.11,414.8V418.2M417.12,414.8V418.2M433.12,414.8V418.2M449.13,414.8V418.2M465.14,414.8V418.2M481.14,414.8V418.2M497.15,414.8V418.2M513.16,414.8V418.2M529.16,414.8V418.2M545.17,414.8V418.2M561.18,414.8V418.2M577.18,414.8V418.2M593.19,414.8V418.2M609.19,414.8V418.2M625.2,414.8V418.2M366.4,414.8H369.1M366.4,399.85H369.1M366.4,384.9H369.1M366.4,369.95H369.1M366.4,355H369.1M366.4,340.05H369.1M366.4,325.1H369.1M366.4,310.15H369.1M366.4,295.2H369.1M366.4,280.25H369.1M366.4,265.3H369.1M366.4,250.35H369.1M366.4,235.4H369.1" stroke="#000" stroke-width="1.75" fill="none"/>
<text class="tk" x="369.1" y="430.7" text-anchor="middle">0.0</text>
<text class="tk" x="401.11" y="430.7" text-anchor="middle">0.5</text>
<text class="tk" x="433.12" y="430.7" text-anchor="middle">1.0</text>
<text class="tk" x="465.14" y="430.7" text-anchor="middle">1.5</text>
<text class="tk" x="497.15" y="430.7" text-anchor="middle">2.0</text>
<text class="tk" x="529.16" y="430.7" text-anchor="middle">2.5</text>
<text class="tk" x="561.18" y="430.7" text-anchor="middle">3.0</text>
<text class="tk" x="593.19" y="430.7" text-anchor="middle">3.5</text>
<text class="tk" x="625.2" y="430.7" text-anchor="middle">4.0</text>
<text class="tk" x="359.8" y="418.3" text-anchor="end">-12</text>
<text class="tk" x="359.8" y="388.4" text-anchor="end">-8</text>
<text class="tk" x="359.8" y="358.5" text-anchor="end">-4</text>
<text class="tk" x="359.8" y="328.6" text-anchor="end">0</text>
<text class="tk" x="359.8" y="298.7" text-anchor="end">4</text>
<text class="tk" x="359.8" y="268.8" text-anchor="end">8</text>
<text class="tk" x="359.8" y="238.9" text-anchor="end">12</text>
<text class="tt" x="497.15" y="444.6" text-anchor="middle">Radial Distance (Å)</text>
<text class="tt" transform="translate(341.8,325.1) rotate(-90)" text-anchor="middle">Real_<tspan font-style="italic">χ</tspan>(R) (Å<tspan font-size="7" dy="-3">-4</tspan><tspan dy="3">)</tspan></text>
<text class="an" x="558.5" y="247.4">K<tspan font-size="7.2" dy="2.8">3</tspan><tspan dy="-2.8">Fe(CN)</tspan><tspan font-size="7.2" dy="2.8">6</tspan></text>
<text class="an" x="558.5" y="259.7">Orthorhombic</text>
<text class="an" x="558.5" y="271.6">S.G.: Pnca</text>
<text class="lb" x="372.9" y="289.7">(d)</text>
</svg>
</body></html>
